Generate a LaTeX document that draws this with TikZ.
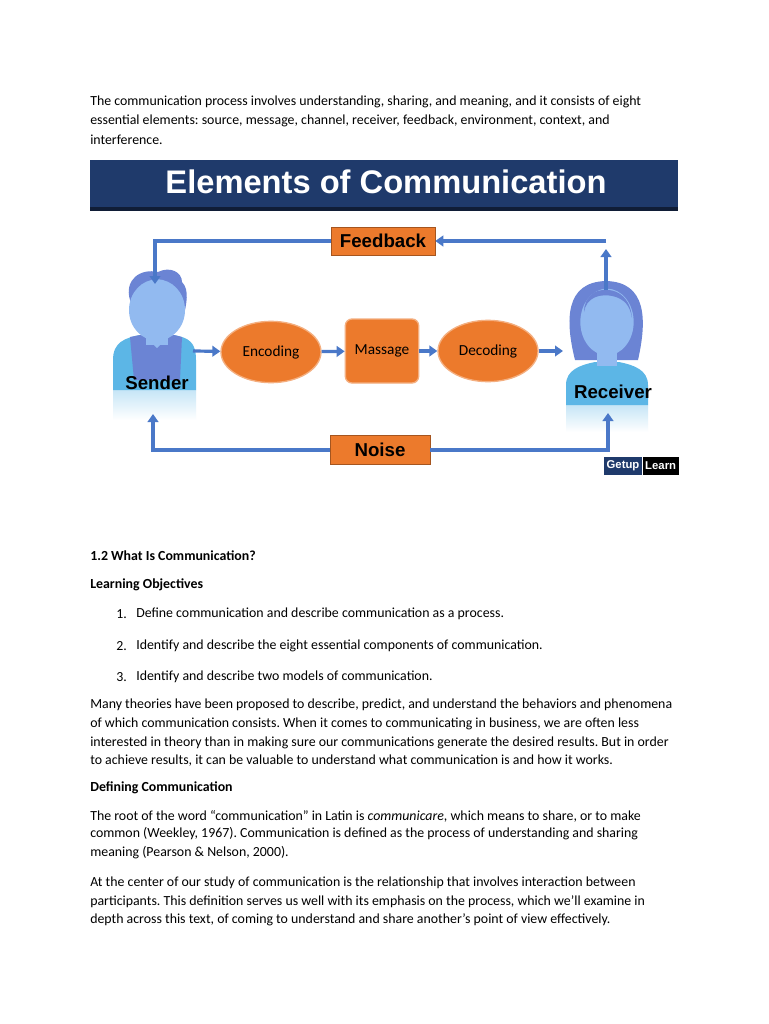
\documentclass[tikz,border=0pt]{standalone}
\usepackage{fontspec}
\setmainfont{Carlito}
\newfontfamily\headfont{Liberation Sans}
\usetikzlibrary{positioning,shapes.geometric,arrows.meta}
\definecolor{navy}{HTML}{1F3A6B}
\definecolor{flowblue}{HTML}{4A78C8}
\definecolor{boxorange}{HTML}{EC7A2C}
\definecolor{hairblue}{HTML}{6B84D4}
\definecolor{faceblue}{HTML}{92BAF0}
\definecolor{shirtblue}{HTML}{5CB6E6}
\frenchspacing
\tikzset{
  bodytext/.style={anchor=west, inner sep=0pt, font=\fontsize{10.4}{13}\selectfont},
  headtext/.style={bodytext, font=\fontsize{10.4}{13}\selectfont\bfseries},
  flowarrow/.style={draw=flowblue, line width=2.4pt, -{Triangle[length=6pt,width=8pt]}},
  labelbox/.style={fill=boxorange, draw=boxorange!70!black, minimum height=21pt, font=\headfont\bfseries\fontsize{14}{15}\selectfont},
  ovalbox/.style={ellipse, fill=boxorange, draw=boxorange!60!white, line width=1pt, minimum width=75pt, minimum height=46pt, font=\fontsize{11.5}{13}\selectfont},
  personname/.style={font=\headfont\bfseries\fontsize{14}{15}\selectfont},
  reflect/.style={top color=shirtblue!35, bottom color=white}
}
\begin{document}
\begin{tikzpicture}[x=0.75pt, y=-0.75pt]
\useasboundingbox[fill=white] (0,0) rectangle (768,1024);
% intro text
\node[bodytext] (intro1) at (90,102) {The communication process involves understanding, sharing, and meaning, and it consists of eight};
\node[bodytext] (intro2) at (90,121) {essential elements: source, message, channel, receiver, feedback, environment, context, and};
\node[bodytext] (intro3) at (90,140) {interference.};
% banner
\fill[navy] (90,160) rectangle (678,210);
\fill[navy!50!black] (90,207) rectangle (678,211);
\node[font=\headfont\bfseries\fontsize{24.5}{26}\selectfont, text=white] (title) at (386,182) {Elements of Communication};
% sender
\fill[reflect] (113,390) rectangle (196,420);
\fill[shirtblue] (113,390) -- (113,360) .. controls (113,342) and (125,338) .. (140,335) -- (174,335) .. controls (189,338) and (196,342) .. (196,360) -- (196,390) -- cycle;
\fill[hairblue] (130,337) -- (140,335) -- (174,335) -- (182,337) -- (180,380) -- (134,380) -- cycle;
\fill[faceblue] (146,318) rectangle (168,345);
\fill[hairblue] (130,300) .. controls (124,280) and (140,268) .. (158,272) .. controls (170,266) and (182,272) .. (182,282) .. controls (190,290) and (186,305) .. (184,315) -- (178,300) -- (136,300) -- (134,318) -- cycle;
\fill[faceblue] (157,310) ellipse (21pt and 23pt);
\fill[faceblue] (146,337) -- (157,348) -- (168,337) -- cycle;
\node[personname] (sender) at (157,383) {Sender};
% receiver
\fill[reflect] (566,405) rectangle (648,432);
\fill[hairblue] (575,360) .. controls (565,320) and (565,282) .. (606,281) .. controls (647,282) and (647,320) .. (638,360) -- cycle;
\fill[shirtblue] (566,405) -- (566,385) .. controls (566,370) and (580,365) .. (595,362) -- (619,362) .. controls (634,365) and (648,370) .. (648,385) -- (648,405) -- cycle;
\fill[faceblue] (597,340) rectangle (617,366);
\fill[faceblue] (607,322) ellipse (20pt and 25pt);
\fill[hairblue] (584,312) .. controls (586,298) and (600,292) .. (616,297) .. controls (624,300) and (630,305) .. (632,318) .. controls (630,292) and (610,286) .. (595,292) .. controls (586,298) and (584,305) .. (584,312) -- cycle;
\node[personname] (receiver) at (613,392) {Receiver};
% middle chain
\node[ovalbox] (encoding) at (271,352) {Encoding};
\node[fill=boxorange, draw=boxorange!60!white, line width=1pt, rounded corners=5pt, minimum width=55pt, minimum height=48pt, font=\fontsize{11.5}{13}\selectfont] (massage) at (382,351) {Massage};
\node[ovalbox] (decoding) at (488,351) {Decoding};
\coordinate (sendout) at (193,351);
\coordinate (recvin) at (563,351);
\draw[flowarrow] (sendout) -- (encoding);
\draw[flowarrow] (encoding) -- (massage);
\draw[flowarrow] (massage) -- (decoding);
\draw[flowarrow] (decoding) -- (recvin);
% feedback loop
\node[labelbox, minimum width=78pt] (feedback) at (383,241) {Feedback};
\coordinate (fbright) at (606,241);
\coordinate (fbleft) at (155,241);
\coordinate (sendtop) at (155,284);
\coordinate (recvtop) at (606,290);
\coordinate (recvup) at (606,249);
\draw[flowarrow] (fbright) -- (feedback);
\draw[flowarrow] (feedback) -- (fbleft) -- (sendtop);
\draw[flowarrow] (recvtop) -- (recvup);
% noise loop
\node[labelbox, minimum width=75pt, minimum height=22pt] (noise) at (380,450) {Noise};
\coordinate (nsleft) at (153,450);
\coordinate (nsright) at (608,450);
\coordinate (sendbot) at (153,414);
\coordinate (recvbot) at (608,413);
\draw[flowarrow] (noise) -- (nsleft) -- (sendbot);
\draw[flowarrow] (noise) -- (nsright) -- (recvbot);
% logo
\node[fill=navy, text=white, inner sep=2pt, minimum height=14pt, font=\headfont\bfseries\fontsize{8.5}{9}\selectfont] (getup) at (623,466) {Getup};
\node[fill=black, text=white, inner sep=2pt, minimum height=14pt, font=\headfont\bfseries\fontsize{8.5}{9}\selectfont, right=0pt of getup] (learn) {Learn};
% section text
\node[headtext] (sec) at (90,556) {1.2 What Is Communication?};
\node[headtext] (lobj) at (90,585) {Learning Objectives};
\foreach \n/\yy/\txt in {1/614/Define communication and describe communication as a process.,
  2/646/Identify and describe the eight essential components of communication.,
  3/677/Identify and describe two models of communication.}{
  \node[bodytext] (num\n) at (116,\yy) {\n.};
  \node[bodytext] (item\n) at (136,\yy) {\txt};
}
\node[bodytext] (para1a) at (90,705) {Many theories have been proposed to describe, predict, and understand the behaviors and phenomena};
\node[bodytext] (para1b) at (90,724) {of which communication consists. When it comes to communicating in business, we are often less};
\node[bodytext] (para1c) at (90,743) {interested in theory than in making sure our communications generate the desired results. But in order};
\node[bodytext] (para1d) at (90,761) {to achieve results, it can be valuable to understand what communication is and how it works.};
\node[headtext] (defhead) at (90,788) {Defining Communication};
\node[bodytext] (para2a) at (90,816) {The root of the word “communication” in Latin is \emph{communicare}, which means to share, or to make};
\node[bodytext] (para2b) at (90,834) {common (Weekley, 1967). Communication is defined as the process of understanding and sharing};
\node[bodytext] (para2c) at (90,853) {meaning (Pearson \& Nelson, 2000).};
\node[bodytext] (para3a) at (90,883) {At the center of our study of communication is the relationship that involves interaction between};
\node[bodytext] (para3b) at (90,902) {participants. This definition serves us well with its emphasis on the process, which we’ll examine in};
\node[bodytext] (para3c) at (90,920) {depth across this text, of coming to understand and share another’s point of view effectively.};
\end{tikzpicture}
\end{document}
